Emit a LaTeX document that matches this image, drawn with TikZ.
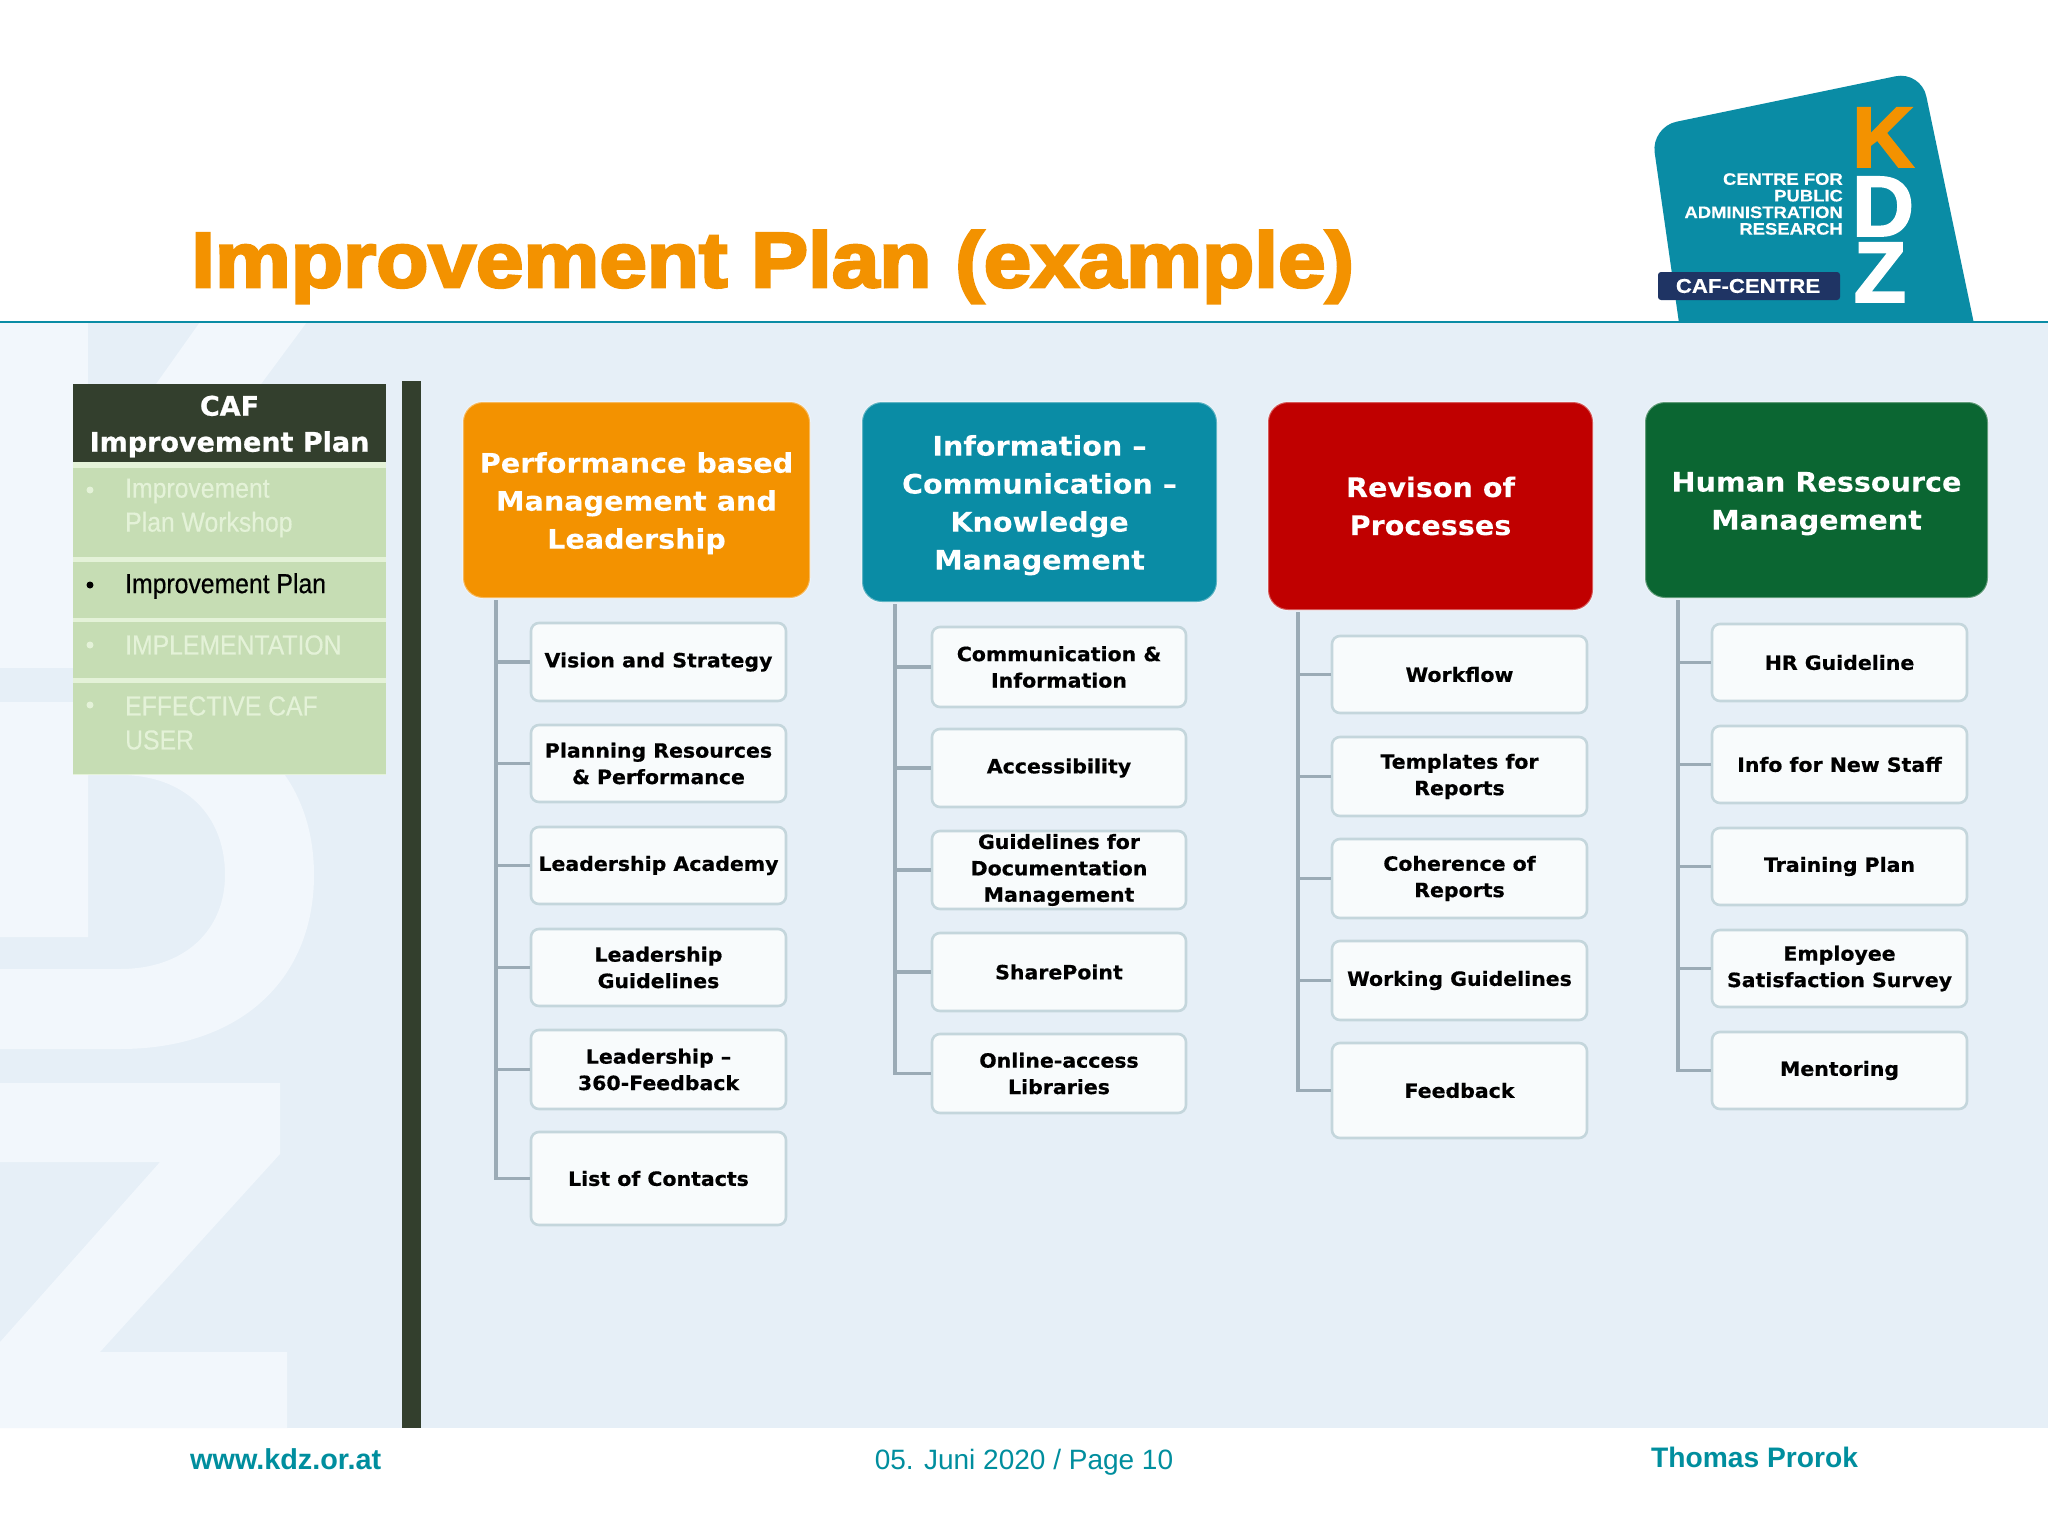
\documentclass[tikz,border=0pt]{standalone}
\usepackage{fontspec}
\setmainfont{Liberation Sans}
\newfontfamily\boxfont[FakeBold=0.6,FakeStretch=1.045]{DejaVu Sans Bold}
\newfontfamily\headfont[FakeBold=0.8,FakeStretch=1.06]{DejaVu Sans Bold}
\newfontfamily\capfont[FakeBold=0.8]{DejaVu Sans Bold}
\newfontfamily\titlefont[FakeBold=3.6,FakeStretch=1.095]{Liberation Sans Bold}
\newfontfamily\narrowfont[FakeStretch=0.9,FakeBold=0.4]{Liberation Sans}
\newfontfamily\logofont[FakeStretch=1.11,FakeBold=0.4]{Liberation Sans Bold}
\newfontfamily\logobig[FakeBold=2]{Liberation Sans Bold}
\definecolor{pagebg}{HTML}{E6EFF7}
\definecolor{markcol}{HTML}{F2F7FC}
\definecolor{kdzorange}{HTML}{F39200}
\definecolor{kdzteal}{HTML}{0A8CA5}
\definecolor{foottext}{HTML}{008E9E}
\definecolor{kdzred}{HTML}{C00000}
\definecolor{kdzgreen}{HTML}{0B6632}
\definecolor{kdzdark}{HTML}{333F2D}
\definecolor{kdznavy}{HTML}{1F3464}
\definecolor{panelgreen}{HTML}{C6DDB4}
\definecolor{panelpale}{HTML}{E4F2D8}
\definecolor{conncol}{HTML}{9BABB6}
\definecolor{boxedge}{HTML}{C4D6DC}
\definecolor{boxfill}{HTML}{F8FBFC}
\tikzset{
  childbox/.style={draw=boxedge,line width=2.6pt,fill=boxfill,rounded corners=8pt,align=center,inner sep=0pt,font=\boxfont\fontsize{19.6}{26.4}\selectfont,text=black},
  headbox/.style={rounded corners=20pt,align=center,inner sep=0pt,font=\headfont\fontsize{27}{38}\selectfont,text=white,draw=white,draw opacity=.35,line width=2pt},
  conn/.style={draw=conncol,line width=3.2pt},
  panelitem/.style={fill=panelgreen,inner sep=0pt},
  paneltext/.style={anchor=west,align=left,inner sep=0pt,font=\narrowfont\fontsize{27.5}{34}\selectfont},
  bulletmark/.style={circle,inner sep=0pt,minimum size=7pt},
  footertext/.style={inner sep=0pt,text=foottext},
  logotext/.style={inner sep=0pt,anchor=east,align=right,text=white,font=\logofont\fontsize{16.6}{16.6}\selectfont},
  logoletter/.style={inner sep=0pt,anchor=base,font=\logobig\fontsize{86}{86}\selectfont}
}
\newcommand{\rectnode}[7]{\node[#1,minimum width={(#5-#3)*1pt},minimum height={(#6-#4)*1pt}] (#2) at ({(#3+#5)/2},{(#4+#6)/2}) {#7};}
\newcommand{\lowerfirst}{\rule{0pt}{27pt}}
\begin{document}
\begin{tikzpicture}[x=1pt,y=-1pt]
\useasboundingbox (0,0) rectangle (2048,1536);
\fill[white] (0,0) rectangle (2048,1536);
% logo
\fill[kdzteal,rounded corners=26pt] (1651,127) -- (1921,71) -- (1990,400) -- (1690,400) -- cycle;
\fill[white] (1600,322) rectangle (2048,420);
\node[logoletter,text=kdzorange] (lk) at (1883,167) {K};
\node[logoletter,text=white] (ld) at (1883,236) {D};
\node[logoletter,text=white] (lz) at (1880,302) {Z};
\node[logotext] (lname) at (1843,204) {CENTRE FOR\\PUBLIC\\ADMINISTRATION\\RESEARCH};
\node[fill=kdznavy,rounded corners=3pt,minimum width=182pt,minimum height=28pt,inner sep=0pt] (lband) at (1749,286) {};
\node[inner sep=0pt,text=white,font=\logofont\fontsize{20}{22}\selectfont] (lcaf) at (1748,286) {CAF-CENTRE};
% background
\fill[pagebg] (0,322) rectangle (2048,1428);
\begin{scope}
\clip (0,322) rectangle (2048,1428);
\fill[markcol] (0,322) rectangle (88,668);
\fill[markcol] (88,480) -- (200,322) -- (307,322) -- (190,480) -- cycle;
\fill[markcol] (0,702) -- (120,702) .. controls (240,702) and (314,770) .. (314,875) .. controls (314,980) and (240,1049) .. (120,1049) -- (0,1049) -- (0,969) -- (120,969) .. controls (185,969) and (225,930) .. (225,875) .. controls (225,815) and (185,775) .. (120,775) -- (88,775) -- (88,937) -- (0,937) -- cycle;
\fill[markcol] (0,1083) -- (280,1083) -- (280,1154) -- (100,1352) -- (287,1352) -- (287,1428) -- (0,1428) -- (0,1342) -- (160,1162) -- (0,1162) -- cycle;
\end{scope}
\draw[kdzteal,line width=2pt] (0,322) -- (2048,322);
% title
\node[inner sep=0pt,anchor=base west,text=kdzorange,font=\titlefont\fontsize{78}{80}\selectfont] (title) at (191,287) {Improvement Plan (example)};
% side panel
\rectnode{fill=panelpale,inner sep=0pt}{pbg}{73}{462}{386}{775}{}
\rectnode{fill=kdzdark,inner sep=0pt,align=center,text=white,font=\capfont\fontsize{27}{36}\selectfont}{p0}{73}{384}{386}{462}{\lowerfirst CAF\\Improvement Plan}
\rectnode{panelitem}{p1}{73}{468}{386}{557}{}
\rectnode{panelitem}{p2}{73}{562}{386}{618}{}
\rectnode{panelitem}{p3}{73}{622}{386}{678}{}
\rectnode{panelitem}{p4}{73}{683}{386}{774}{}
\node[paneltext,text=panelpale] (pt1) at (125,508) {Improvement\\Plan Workshop};
\node[paneltext,text=black] (pt2) at (125,586) {Improvement Plan};
\node[paneltext,text=panelpale] (pt3) at (125,645) {IMPLEMENTATION};
\node[paneltext,text=panelpale] (pt4) at (125,723) {EFFECTIVE CAF\\USER};
\node[bulletmark,fill=panelpale] (b1) at (90,490) {};
\node[bulletmark,fill=black] (b2) at (90,585) {};
\node[bulletmark,fill=panelpale] (b3) at (90,645) {};
\node[bulletmark,fill=panelpale] (b4) at (90,705) {};
\fill[kdzdark] (402,381) rectangle (421,1428);
% headers
\rectnode{headbox,fill=kdzorange}{h1}{463}{402}{810}{598}{\lowerfirst Performance based\\Management and\\Leadership}
\rectnode{headbox,fill=kdzteal}{h2}{862}{402}{1217}{602}{\lowerfirst Information –\\Communication –\\Knowledge\\Management}
\rectnode{headbox,fill=kdzred}{h3}{1268}{402}{1593}{610}{Revison of\\Processes}
\rectnode{headbox,fill=kdzgreen}{h4}{1645}{402}{1988}{598}{\lowerfirst Human Ressource\\Management}
% column 1
\coordinate (t1) at (496,600);
\rectnode{childbox}{a1}{531}{623}{786}{701}{Vision and Strategy}
\rectnode{childbox}{a2}{531}{725}{786}{802}{Planning Resources\\\& Performance}
\rectnode{childbox}{a3}{531}{827}{786}{904}{Leadership Academy}
\rectnode{childbox}{a4}{531}{929}{786}{1006}{Leadership\\Guidelines}
\rectnode{childbox}{a5}{531}{1030}{786}{1109}{Leadership –\\360-Feedback}
\rectnode{childbox}{a6}{531}{1132}{786}{1225}{List of Contacts}
% column 2
\coordinate (t2) at (895,604);
\rectnode{childbox}{b1n}{932}{627}{1186}{707}{Communication \&\\Information}
\rectnode{childbox}{b2n}{932}{729}{1186}{807}{Accessibility}
\rectnode{childbox}{b3n}{932}{831}{1186}{909}{Guidelines for\\Documentation\\Management}
\rectnode{childbox}{b4n}{932}{933}{1186}{1011}{SharePoint}
\rectnode{childbox}{b5n}{932}{1034}{1186}{1113}{Online-access\\Libraries}
% column 3
\coordinate (t3) at (1298,612);
\rectnode{childbox}{c1}{1332}{636}{1587}{713}{Workflow}
\rectnode{childbox}{c2}{1332}{737}{1587}{816}{Templates for\\Reports}
\rectnode{childbox}{c3}{1332}{839}{1587}{918}{Coherence of\\Reports}
\rectnode{childbox}{c4}{1332}{941}{1587}{1020}{Working Guidelines}
\rectnode{childbox}{c5}{1332}{1043}{1587}{1138}{Feedback}
% column 4
\coordinate (t4) at (1678,600);
\rectnode{childbox}{d1}{1712}{624}{1967}{701}{HR Guideline}
\rectnode{childbox}{d2}{1712}{726}{1967}{803}{Info for New Staff}
\rectnode{childbox}{d3}{1712}{828}{1967}{905}{Training Plan}
\rectnode{childbox}{d4}{1712}{930}{1967}{1007}{Employee\\Satisfaction Survey}
\rectnode{childbox}{d5}{1712}{1032}{1967}{1109}{Mentoring}
% connectors
\draw[conn] (t1) |- (a6.west);
\foreach \n in {a1,a2,a3,a4,a5} \draw[conn] (t1 |- \n.west) -- (\n.west);
\draw[conn] (t2) |- (b5n.west);
\foreach \n in {b1n,b2n,b3n,b4n} \draw[conn] (t2 |- \n.west) -- (\n.west);
\draw[conn] (t3) |- (c5.west);
\foreach \n in {c1,c2,c3,c4} \draw[conn] (t3 |- \n.west) -- (\n.west);
\draw[conn] (t4) |- (d5.west);
\foreach \n in {d1,d2,d3,d4} \draw[conn] (t4 |- \n.west) -- (\n.west);
% footer
\node[footertext,font=\bfseries\fontsize{28.8}{32}\selectfont,anchor=west] (f1) at (190,1459) {www.kdz.or.at};
\node[footertext,font=\fontsize{28}{32}\selectfont] (f2) at (1024,1462) {05. Juni 2020 / Page 10};
\node[footertext,font=\bfseries\fontsize{28.2}{32}\selectfont,anchor=west] (f3) at (1651,1457) {Thomas Prorok};
\end{tikzpicture}
\end{document}
